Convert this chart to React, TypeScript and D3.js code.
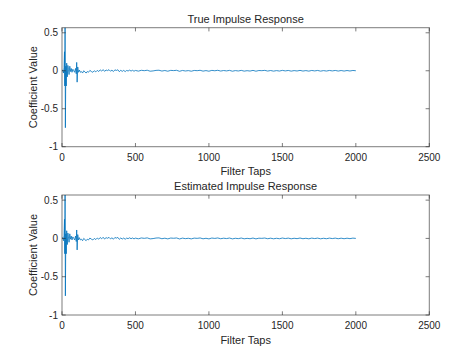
import React from "react";
import * as d3 from "d3";

const taps: number[] = [
  0, 6, 10, 14, 17, 19, 21, 23, 26, 29, 32, 36, 40, 44, 48, 53, 58, 63, 68, 74,
  80, 86, 92, 97, 100, 103, 107, 112, 118, 125, 132, 140, 148, 156, 164, 172, 180, 190, 200,
  210, 220, 230, 240, 250, 260, 270, 280, 290, 300, 310, 320, 330, 340, 350, 360, 370, 380, 390, 400,
  410, 420, 430, 440, 450, 460, 470, 480, 490, 500,
  520, 540, 560, 580, 600, 620, 640, 660, 680, 700, 720, 740, 760, 780, 800, 820, 840, 860, 880, 900,
  920, 940, 960, 980, 1000, 1020, 1040, 1060, 1080, 1100, 1120, 1140, 1160, 1180, 1200, 1220, 1240, 1260, 1280, 1300,
  1320, 1340, 1360, 1380, 1400, 1420, 1440, 1460, 1480, 1500, 1520, 1540, 1560, 1580, 1600, 1620, 1640, 1660, 1680, 1700,
  1720, 1740, 1760, 1780, 1800, 1820, 1840, 1860, 1880, 1900, 1920, 1940, 1960, 1980, 2000,
];

const trueCoeffs: number[] = [
  0, 0.01, -0.03, 0.04, 0.25, -0.2, 0.62, -0.75, 0.06, -0.2, 0.1, -0.08, 0.07, 0.02, -0.05, 0.06, -0.01, 0.03, -0.02, 0.02,
  0.0, -0.02, 0.03, -0.04, 0.11, -0.15, 0.05, -0.02, 0.01, -0.02, -0.01, -0.03, 0.0, -0.015, -0.03, -0.01, -0.02, 0.005, -0.01,
  -0.02, 0.0, -0.015, 0.005, -0.01, 0.012, -0.005, 0.015, -0.008, 0.01, 0.002, 0.014, -0.006, 0.008, -0.01, 0.012, 0.004, 0.013, -0.012, 0.006,
  -0.008, 0.005, -0.011, 0.004, -0.003, 0.008, -0.004, 0.006, -0.006, 0.004,
  -0.005, 0.006, 0.001, 0.007, -0.006, -0.002, 0.005, 0.007, -0.004, 0.003, -0.006, 0.005, 0.002, 0.006, -0.007, 0.004, -0.003, 0.002, -0.006, 0.004,
  0.001, 0.006, -0.005, 0.002, -0.006, 0.005, 0.0, 0.006, -0.004, 0.003, -0.002, 0.005, -0.006, 0.002, -0.003, 0.005, -0.005, 0.001, -0.004, 0.005,
  -0.006, 0.003, 0.001, 0.005, -0.004, 0.003, -0.005, 0.002, -0.004, 0.005, -0.002, 0.004, -0.005, 0.002, -0.003, 0.005, -0.004, 0.002, -0.005, 0.004,
  -0.002, 0.004, -0.005, 0.002, -0.004, 0.004, -0.002, 0.004, -0.004, 0.003, -0.004, 0.003, -0.003, 0.004, 0.0,
];

const estimatedCoeffs: number[] = trueCoeffs.slice();

const xTicks = [0, 500, 1000, 1500, 2000, 2500];
const yTicks = [-1, -0.5, 0, 0.5];
const xDomain = [0, 2500];
const yDomain = [-1, 0.567];

const panels = [
  { title: "True Impulse Response", values: trueCoeffs, top: 27.7, bottom: 146.7 },
  { title: "Estimated Impulse Response", values: estimatedCoeffs, top: 195, bottom: 315 },
];

const LEFT = 62;
const RIGHT = 429.3;
const FONT = "'Liberation Sans', Arial, Helvetica, sans-serif";
const TEXT = "#262626";
const AXIS = "#262626";
const LINE = "#0072BD";
const TICK = 3.7;

function Panel({ idx, title, values, top, bottom }: any) {
  const x = d3.scaleLinear().domain(xDomain).range([LEFT, RIGHT]);
  const y = d3.scaleLinear().domain(yDomain).range([bottom, top]);
  const line = d3
    .line<number>()
    .x((_, i) => x(taps[i]))
    .y((d) => y(d));
  const clipId = `clip-${idx}`;
  const cx = (LEFT + RIGHT) / 2;
  const cy = (top + bottom) / 2;
  return (
    <g>
      <defs>
        <clipPath id={clipId}>
          <rect x={LEFT} y={top} width={RIGHT - LEFT} height={bottom - top} />
        </clipPath>
      </defs>
      <path
        d={line(values) || ""}
        fill="none"
        stroke={LINE}
        strokeWidth={0.8}
        clipPath={`url(#${clipId})`}
      />
      <rect
        x={LEFT}
        y={top}
        width={RIGHT - LEFT}
        height={bottom - top}
        fill="none"
        stroke={AXIS}
        strokeOpacity={0.6}
        strokeWidth={1}
      />
      {xTicks.map((t) => (
        <g key={`x${t}`}>
          <line x1={x(t)} x2={x(t)} y1={bottom} y2={bottom - TICK} stroke={AXIS} strokeOpacity={0.6} />
          <line x1={x(t)} x2={x(t)} y1={top} y2={top + TICK} stroke={AXIS} strokeOpacity={0.6} />
          <text
            x={x(t)}
            y={bottom + 14.3}
            textAnchor="middle"
            fontSize={10}
            fill={TEXT}
            fontFamily={FONT}
          >
            {t}
          </text>
        </g>
      ))}
      {yTicks.map((t) => (
        <g key={`y${t}`}>
          <line x1={LEFT} x2={LEFT + TICK} y1={y(t)} y2={y(t)} stroke={AXIS} strokeOpacity={0.6} />
          <line x1={RIGHT} x2={RIGHT - TICK} y1={y(t)} y2={y(t)} stroke={AXIS} strokeOpacity={0.6} />
          <text
            x={LEFT - 4}
            y={y(t) + 3.5}
            textAnchor="end"
            fontSize={10}
            fill={TEXT}
            fontFamily={FONT}
          >
            {t}
          </text>
        </g>
      ))}
      <text
        x={cx}
        y={top - 4.8}
        textAnchor="middle"
        fontSize={11}
        fill={TEXT}
        fontFamily={FONT}
      >
        {title}
      </text>
      <text
        x={cx}
        y={bottom + 28.5}
        textAnchor="middle"
        fontSize={11}
        fill={TEXT}
        fontFamily={FONT}
      >
        Filter Taps
      </text>
      <text
        transform={`translate(36.5, ${cy}) rotate(-90)`}
        textAnchor="middle"
        fontSize={11}
        fill={TEXT}
        fontFamily={FONT}
      >
        Coefficient Value
      </text>
    </g>
  );
}

export default function App() {
  return (
    <svg
      width={474}
      height={355}
      style={{ position: "absolute", left: 0, top: 0, background: "#fff" }}
    >
      <rect width={474} height={355} fill="#fff" />
      {panels.map((p, i) => (
        <Panel key={i} idx={i} {...p} />
      ))}
    </svg>
  );
}
